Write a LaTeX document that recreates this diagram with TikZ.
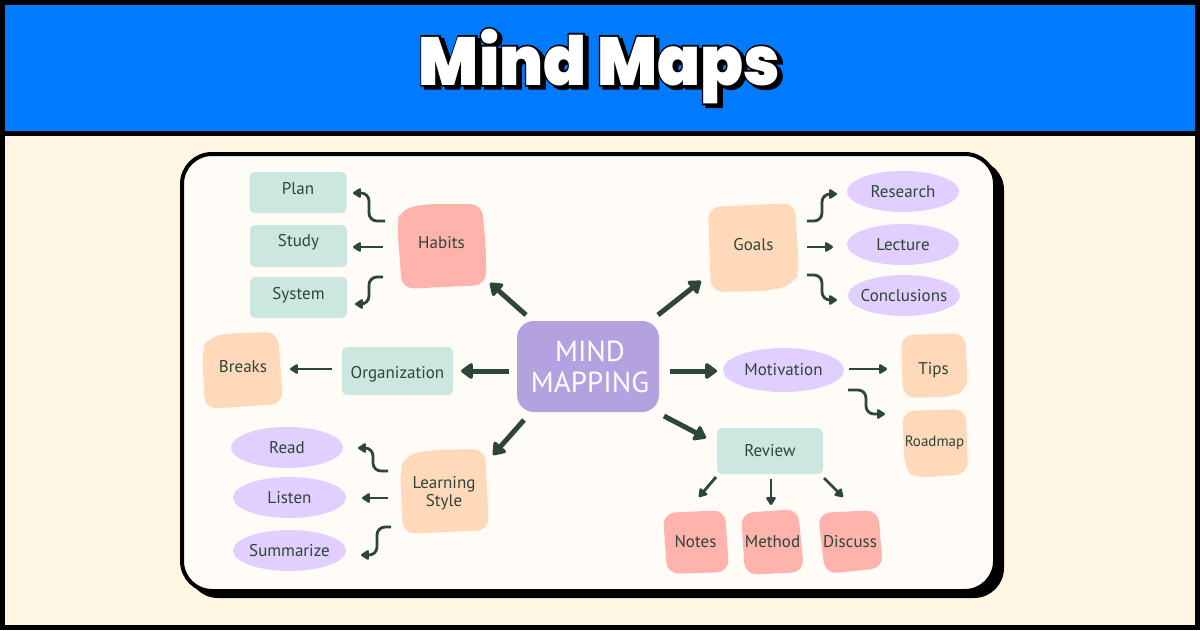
\documentclass[tikz,border=0pt]{standalone}
\usepackage{fontspec}
\usetikzlibrary{arrows.meta,shapes.geometric}
\setmainfont{PT Sans}
\newfontfamily\titlelayer{Poppins Black}[FakeBold=5,FakeStretch=0.93]
\newfontfamily\titletop{Poppins Black}[FakeStretch=0.93]
\definecolor{mint}{HTML}{CCE7E0}
\definecolor{pinkb}{HTML}{FFB3AD}
\definecolor{peach}{HTML}{FFD9BA}
\definecolor{lav}{HTML}{E0CFFF}
\definecolor{hubc}{HTML}{B3A1E0}
\definecolor{ink}{HTML}{2D4638}
\definecolor{cream}{HTML}{FFF7E3}
\definecolor{cardc}{HTML}{FFFCF8}
\definecolor{bluehd}{HTML}{007AFF}
\tikzset{
  x=1pt,y=-1pt,
  label text/.style={font=\fontsize{17}{18}\selectfont,text=ink,inner sep=0pt,align=center},
  mintbox/.style={label text,fill=mint,rounded corners=5pt,rectangle},
  lavell/.style={label text,fill=lav,ellipse},
  blob/.style={rounded corners=12pt},
  thinarrow/.style={draw=ink,line width=2.8pt,-{Triangle[length=9pt,width=11pt,round]},rounded corners=8pt},
  thickarrow/.style={draw=ink,line width=5pt,-{Triangle[length=13pt,width=18pt,round]}},
  titletext/.style={inner sep=0pt,anchor=base,font=\fontsize{68}{70}\selectfont},
}
\begin{document}
\begin{tikzpicture}
\useasboundingbox (0,0) rectangle (1200,630);
\fill[black] (0,0) rectangle (1200,630);
\fill[cream] (5,136) rectangle (1195,625);
\fill[bluehd] (5,5) rectangle (1195,131);
% title
\node[titletext,text=black] (titleshadow) at (603,88) {\titlelayer Mind Maps};
\node[titletext,text=black] (titleoutline) at (599.5,85) {\titlelayer Mind Maps};
\node[titletext,text=white] (title) at (599.5,85) {\titletop Mind Maps};
% card
\fill[black,rounded corners=30pt] (188,160) rectangle (1004,598);
\draw[black,line width=4pt,fill=cardc,rounded corners=30pt] (182,154) rectangle (995,591);
% blobs
\fill[pinkb,blob] (397,222)--(401,209)--(425,204)--(482,204)--(486,250)--(486,285)--(402,289)--cycle;
\fill[peach,blob] (202,350)--(208,337)--(232,333)--(278,332)--(283,404)--(205,409)--cycle;
\fill[peach,blob] (400,470)--(405,455)--(430,450)--(485,449)--(489,530)--(403,534)--cycle;
\fill[peach,blob] (708,207)--(795,203)--(799,272)--(794,284)--(770,291)--(711,292)--cycle;
\fill[peach,blob] (901,335)--(965,333)--(968,390)--(950,397)--(903,398)--cycle;
\fill[peach,blob] (902,411)--(966,409)--(968,474)--(915,478)--(905,470)--cycle;
\fill[pinkb,blob] (663,513)--(725,510)--(729,572)--(667,574)--cycle;
\fill[pinkb,blob] (741,513)--(798,509)--(804,572)--(745,575)--cycle;
\fill[pinkb,blob] (818,513)--(878,510)--(883,568)--(825,574)--cycle;
% nodes
\node[label text,fill=hubc,rounded corners=17pt,minimum width=142pt,minimum height=91pt,text=white,font=\fontsize{29}{31}\selectfont] (hub) at (588,366.5) {\hspace*{4pt}MIND\\\hspace*{4pt}MAPPING};
\node[mintbox,minimum width=97pt,minimum height=41pt] (plan) at (298,192.5) {\raisebox{8pt}{Plan}};
\node[mintbox,minimum width=97pt,minimum height=42pt] (study) at (298.5,246) {\raisebox{12pt}{Study}};
\node[mintbox,minimum width=97pt,minimum height=41pt] (system) at (298.5,297.5) {\raisebox{8pt}{System}};
\node[mintbox,minimum width=111pt,minimum height=48pt] (org) at (397.5,371) {\rule{0pt}{18.5pt}Organization};
\node[mintbox,minimum width=106pt,minimum height=46pt] (review) at (770,451) {Review};
\node[label text,minimum width=89pt,minimum height=86pt] (habits) at (441.5,246) {\raisebox{7pt}{Habits}};
\node[label text,minimum width=80pt,minimum height=76pt] (breaks) at (243,370) {\raisebox{8pt}{Breaks}};
\node[label text,minimum width=88pt,minimum height=84pt] (learn) at (444,493) {Learning\\Style};
\node[label text,minimum width=91pt,minimum height=89pt] (goals) at (753.5,247.5) {\raisebox{7pt}{Goals}};
\node[label text,minimum width=67pt,minimum height=65pt] (tips) at (933.5,365.5) {\rule{0pt}{20.5pt}Tips};
\node[label text,minimum width=65pt,minimum height=68pt,font=\fontsize{15}{17}\selectfont] (roadmap) at (934.5,443) {Roadmap};
\node[label text,minimum width=65pt,minimum height=63pt] (notes) at (695.5,541.5) {Notes};
\node[label text,minimum width=63pt,minimum height=65pt] (method) at (772.5,541.5) {Method};
\node[label text,minimum width=64pt,minimum height=63pt] (discuss) at (850,541.5) {Discuss};
\node[lavell,minimum width=112pt,minimum height=41pt] (read) at (287,447.5) {Read};
\node[lavell,minimum width=113pt,minimum height=41pt] (listen) at (289.5,497.5) {Listen};
\node[lavell,minimum width=113pt,minimum height=41pt] (summarize) at (289.5,550.5) {\makebox[0pt]{Summarize}};
\node[lavell,minimum width=112pt,minimum height=41pt] (research) at (903,191.5) {Research};
\node[lavell,minimum width=112pt,minimum height=41pt] (lecture) at (903,244.5) {Lecture};
\node[lavell,minimum width=112pt,minimum height=41pt] (conclusions) at (904,295.5) {\makebox[0pt]{Conclusions}};
\node[lavell,minimum width=121pt,minimum height=44pt] (motivation) at (783.5,370) {Motivation};
% thick connectors
\draw[thickarrow] ([shift={(-62,-51.5)}]hub.center) -- ([shift={(48.5,37)}]habits.center);
\draw[thickarrow] ([shift={(70,-51.5)}]hub.center) -- ([shift={(-52.5,33.5)}]goals.center);
\draw[thickarrow] ([shift={(-79,4.5)}]hub.center) -- ([shift={(63.5,0)}]org.center);
\draw[thickarrow] ([shift={(82,4.5)}]hub.center) -- ([shift={(-66.5,1)}]motivation.center);
\draw[thickarrow] ([shift={(76,49.5)}]hub.center) -- ([shift={(-64,-13)}]review.center);
\draw[thickarrow] ([shift={(-64,53.5)}]hub.center) -- ([shift={(49,-38)}]learn.center);
% thin connectors
\draw[thinarrow] ([shift={(-56.5,-25)}]habits.center) -- ++(-16,0) -- ++(0,-28) -- ([shift={(55,0.5)}]plan.center);
\draw[thinarrow] ([shift={(-58.5,1)}]habits.center) -- ([shift={(54.5,1)}]study.center);
\draw[thinarrow] ([shift={(-58.5,31)}]habits.center) -- ++(-14,0) -- ++(0,27) -- ([shift={(56.5,6.5)}]system.center);
\draw[thinarrow] ([shift={(-65.5,-2)}]org.center) -- ([shift={(47,-1)}]breaks.center);
\draw[thinarrow] ([shift={(-56,-22)}]learn.center) -- ++(-15,0) -- ++(0,-23) -- ([shift={(71,0.5)}]read.center);
\draw[thinarrow] ([shift={(-56,5)}]learn.center) -- ([shift={(72.5,0.5)}]listen.center);
\draw[thinarrow] ([shift={(-53,34)}]learn.center) -- ++(-14,0) -- ++(0,28) -- ([shift={(71.5,4.5)}]summarize.center);
\draw[thinarrow] ([shift={(53.5,-26.5)}]goals.center) -- ++(15,0) -- ++(0,-27) -- ([shift={(-66,2.5)}]research.center);
\draw[thinarrow] ([shift={(53.5,-0.5)}]goals.center) -- ([shift={(-70,2.5)}]lecture.center);
\draw[thinarrow] ([shift={(53.5,27.5)}]goals.center) -- ++(15,0) -- ++(0,25) -- ([shift={(-67,4.5)}]conclusions.center);
\draw[thinarrow] ([shift={(65.5,-1)}]motivation.center) -- ([shift={(-46.5,3.5)}]tips.center);
\draw[thinarrow] ([shift={(64.5,20)}]motivation.center) -- ++(18,0) -- ++(0,24) -- ([shift={(-49.5,-29)}]roadmap.center);
\draw[thinarrow] ([shift={(-54,26)}]review.center) -- ([shift={(3.5,-44.5)}]notes.center);
\draw[thinarrow] ([shift={(1,28)}]review.center) -- ([shift={(-1.5,-36.5)}]method.center);
\draw[thinarrow] ([shift={(54,27)}]review.center) -- ([shift={(-7,-44.5)}]discuss.center);
\end{tikzpicture}
\end{document}
